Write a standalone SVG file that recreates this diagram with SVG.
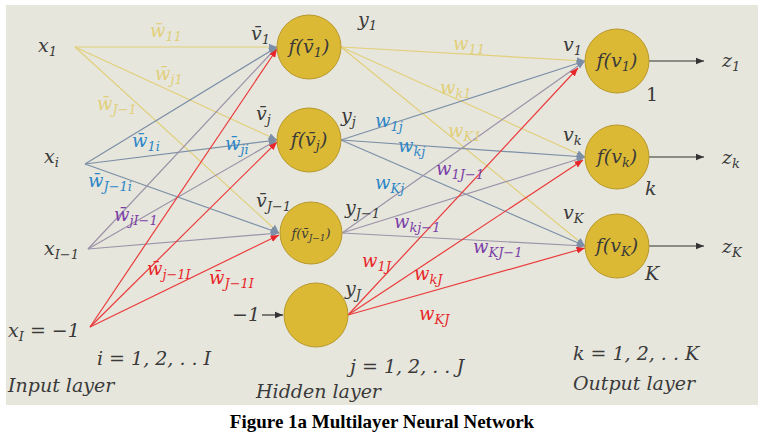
<svg xmlns="http://www.w3.org/2000/svg" width="764" height="441" viewBox="0 0 764 441">
<style>
text{font-family:"DejaVu Serif","Liberation Serif",serif;font-style:italic;font-size:19px;fill:#3a3a3a}
.s{font-size:13px}
.w{font-size:18px}
.y{fill:#e2cf7a}.b{fill:#2f86c6}.p{fill:#7b3fa6}.r{fill:#e8262a}
.node{fill:#dcb934;stroke:#b8982a;stroke-width:1}
.ly{stroke:#e2cf7a}.lb{stroke:#7c8fa6}.lp{stroke:#9c93a8}.lr{stroke:#ea3b3b}.lk{stroke:#333}
line{stroke-width:1.2}
</style>
<defs>
<marker id="a" viewBox="0 0 10 10" refX="10" refY="5" markerWidth="7" markerHeight="7" orient="auto"><path d="M0,1 L10,5 L0,9z" fill="#7c8fa6"/></marker>
<marker id="ar" viewBox="0 0 10 10" refX="10" refY="5" markerWidth="7" markerHeight="7" orient="auto"><path d="M0,1 L10,5 L0,9z" fill="#e8262a"/></marker>
<marker id="ak" viewBox="0 0 10 10" refX="10" refY="5" markerWidth="7" markerHeight="7" orient="auto"><path d="M0,1 L10,5 L0,9z" fill="#333"/></marker>
</defs>
<rect width="764" height="441" fill="#fff"/>
<rect x="6" y="5" width="752" height="400" fill="#e6e6dd"/>
<g id="connectors">
<line class="ly" x1="75" y1="47" x2="277" y2="47" marker-end="url(#a)"/>
<line class="ly" x1="75" y1="47" x2="277" y2="140" marker-end="url(#a)"/>
<line class="ly" x1="75" y1="47" x2="279" y2="233" marker-end="url(#a)"/>
<line class="lb" x1="85" y1="164" x2="277" y2="47" marker-end="url(#a)"/>
<line class="lb" x1="85" y1="164" x2="277" y2="140" marker-end="url(#a)"/>
<line class="lb" x1="85" y1="164" x2="279" y2="233" marker-end="url(#a)"/>
<line class="lp" x1="88" y1="249" x2="277" y2="47" marker-end="url(#a)"/>
<line class="lp" x1="88" y1="249" x2="277" y2="140" marker-end="url(#a)"/>
<line class="lp" x1="88" y1="249" x2="279" y2="233" marker-end="url(#a)"/>
<line class="lr" x1="90" y1="327" x2="277" y2="49" marker-end="url(#ar)"/>
<line class="lr" x1="90" y1="327" x2="277" y2="142" marker-end="url(#ar)"/>
<line class="lr" x1="90" y1="327" x2="279" y2="235" marker-end="url(#ar)"/>
<line class="ly" x1="341" y1="47" x2="585" y2="61" marker-end="url(#a)"/>
<line class="ly" x1="341" y1="47" x2="585" y2="157" marker-end="url(#a)"/>
<line class="ly" x1="341" y1="47" x2="585" y2="246" marker-end="url(#a)"/>
<line class="lb" x1="341" y1="140" x2="585" y2="61" marker-end="url(#a)"/>
<line class="lb" x1="341" y1="140" x2="585" y2="157" marker-end="url(#a)"/>
<line class="lb" x1="341" y1="140" x2="585" y2="246" marker-end="url(#a)"/>
<line class="lp" x1="342" y1="233" x2="585" y2="61" marker-end="url(#a)"/>
<line class="lp" x1="342" y1="233" x2="585" y2="157" marker-end="url(#a)"/>
<line class="lp" x1="342" y1="233" x2="585" y2="246" marker-end="url(#a)"/>
<line class="lr" x1="348" y1="315" x2="578" y2="68" marker-end="url(#ar)"/>
<line class="lr" x1="348" y1="315" x2="583" y2="160" marker-end="url(#ar)"/>
<line class="lr" x1="348" y1="315" x2="585" y2="248" marker-end="url(#ar)"/>
<line class="lk" x1="262" y1="315" x2="283" y2="315" marker-end="url(#ak)"/>
<line class="lk" x1="649" y1="61" x2="704" y2="61" marker-end="url(#ak)"/>
<line class="lk" x1="649" y1="157" x2="704" y2="157" marker-end="url(#ak)"/>
<line class="lk" x1="649" y1="246" x2="704" y2="246" marker-end="url(#ak)"/>
</g>
<g id="h1"><circle class="node" cx="309" cy="47" r="32"/><text x="309" y="53" text-anchor="middle">f(v̄<tspan class="s" dy="4">1</tspan><tspan dy="-4">)</tspan></text></g>
<g id="hj"><circle class="node" cx="309" cy="140" r="32"/><text x="309" y="146" text-anchor="middle">f(v̄<tspan class="s" dy="4">j</tspan><tspan dy="-4">)</tspan></text></g>
<g id="hJ1"><circle class="node" cx="311" cy="233" r="31"/><text x="311" y="238" text-anchor="middle" style="font-size:13px">f(v̄<tspan style="font-size:9px" dy="3">J−1</tspan><tspan dy="-3">)</tspan></text></g>
<g id="hJ"><circle class="node" cx="316" cy="315" r="32"/></g>
<g id="o1"><circle class="node" cx="617" cy="61" r="32"/><text x="617" y="67" text-anchor="middle">f(v<tspan class="s" dy="4">1</tspan><tspan dy="-4">)</tspan></text></g>
<g id="ok"><circle class="node" cx="617" cy="157" r="32"/><text x="617" y="163" text-anchor="middle">f(v<tspan class="s" dy="4">k</tspan><tspan dy="-4">)</tspan></text></g>
<g id="oK"><circle class="node" cx="617" cy="246" r="32"/><text x="617" y="252" text-anchor="middle">f(v<tspan class="s" dy="4">K</tspan><tspan dy="-4">)</tspan></text></g>
<g id="labels">
<text x="38" y="52">x<tspan class="s" dy="4">1</tspan></text>
<text x="44" y="163">x<tspan class="s" dy="4">i</tspan></text>
<text x="44" y="255">x<tspan class="s" dy="4">I−1</tspan></text>
<text x="8" y="337">x<tspan class="s" dy="4">I</tspan><tspan dy="-4"> = −1</tspan></text>
<text class="y w" x="150" y="37">w̄<tspan class="s" dy="4">11</tspan></text>
<text class="y w" x="155" y="80">w̄<tspan class="s" dy="4">j1</tspan></text>
<text class="y w" x="97" y="110">w̄<tspan class="s" dy="4">J−1</tspan></text>
<text class="b w" x="132" y="147">w̄<tspan class="s" dy="4">1i</tspan></text>
<text class="b w" x="225" y="150">w̄<tspan class="s" dy="4">ji</tspan></text>
<text class="b w" x="88" y="187">w̄<tspan class="s" dy="4">J−1i</tspan></text>
<text class="p w" x="114" y="221">w̄<tspan class="s" dy="4">jI−1</tspan></text>
<text class="r w" x="147" y="275">w̄<tspan class="s" dy="4">j−1I</tspan></text>
<text class="r w" x="209" y="284">w̄<tspan class="s" dy="4">J−1I</tspan></text>
<text x="251" y="40">v̄<tspan class="s" dy="4">1</tspan></text>
<text x="256" y="120">v̄<tspan class="s" dy="4">j</tspan></text>
<text x="256" y="207">v̄<tspan class="s" dy="4">J−1</tspan></text>
<text x="232" y="321">−1</text>
<text x="358" y="26">y<tspan class="s" dy="4">1</tspan></text>
<text x="341" y="122">y<tspan class="s" dy="4">j</tspan></text>
<text x="345" y="214">y<tspan class="s" dy="4">J−1</tspan></text>
<text x="345" y="295">y<tspan class="s" dy="4">J</tspan></text>
<text class="y w" x="453" y="50">w<tspan class="s" dy="4">11</tspan></text>
<text class="y w" x="440" y="94">w<tspan class="s" dy="4">k1</tspan></text>
<text class="y w" x="448" y="137">w<tspan class="s" dy="4">K1</tspan></text>
<text class="b w" x="375" y="127">w<tspan class="s" dy="4">1j</tspan></text>
<text class="b w" x="398" y="152">w<tspan class="s" dy="4">kj</tspan></text>
<text class="b w" x="375" y="189">w<tspan class="s" dy="4">Kj</tspan></text>
<text class="p w" x="436" y="175">w<tspan class="s" dy="4">1J−1</tspan></text>
<text class="p w" x="394" y="228">w<tspan class="s" dy="4">kj−1</tspan></text>
<text class="p w" x="473" y="253">w<tspan class="s" dy="4">KJ−1</tspan></text>
<text class="r w" x="362" y="267">w<tspan class="s" dy="4">1J</tspan></text>
<text class="r w" x="414" y="280">w<tspan class="s" dy="4">kJ</tspan></text>
<text class="r w" x="419" y="320">w<tspan class="s" dy="4">KJ</tspan></text>
<text x="563" y="51">v<tspan class="s" dy="4">1</tspan></text>
<text x="563" y="141">v<tspan class="s" dy="4">k</tspan></text>
<text x="563" y="219">v<tspan class="s" dy="4">K</tspan></text>
<text x="722" y="67">z<tspan class="s" dy="4">1</tspan></text>
<text x="722" y="164">z<tspan class="s" dy="4">k</tspan></text>
<text x="722" y="253">z<tspan class="s" dy="4">K</tspan></text>
<text x="646" y="101" style="font-style:normal">1</text>
<text x="645" y="195">k</text>
<text x="645" y="280">K</text>
<text x="97" y="365">i = 1, 2, . . I</text>
<text x="350" y="373">j = 1, 2, . . J</text>
<text x="573" y="360">k = 1, 2, . . K</text>
<text x="8" y="392">Input layer</text>
<text x="256" y="398">Hidden layer</text>
<text x="573" y="390">Output layer</text>
</g>
<text x="382" y="428" text-anchor="middle" style="font-family:'Liberation Serif',serif;font-style:normal;font-weight:bold;font-size:19px;fill:#000">Figure 1a Multilayer Neural Network</text>
</svg>
